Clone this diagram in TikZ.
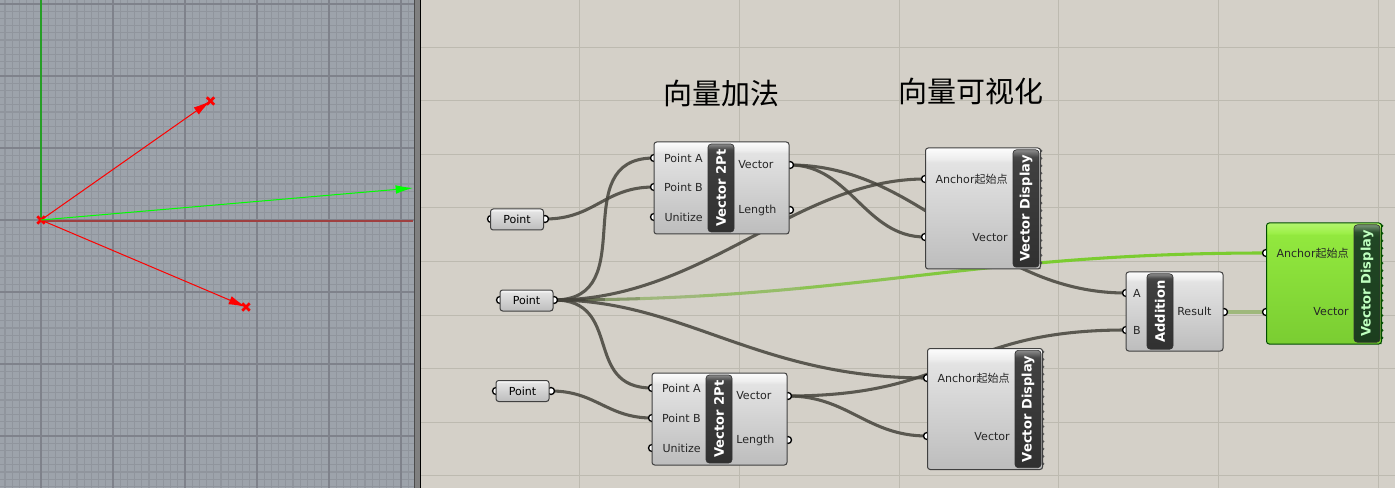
\documentclass[tikz,border=0pt]{standalone}
\usepackage{fontspec}
\setmainfont{DejaVu Sans}
\newfontfamily\cjkfont{Noto Sans CJK SC}
\usetikzlibrary{arrows.meta,backgrounds,decorations.pathmorphing,shapes.misc}
\definecolor{canvasbg}{HTML}{D4D0C8}
\definecolor{canvasline}{HTML}{BDBAB0}
\definecolor{viewbg}{HTML}{9DA3AB}
\definecolor{viewminor}{HTML}{90959D}
\definecolor{viewmajor}{HTML}{7F828B}
\definecolor{wiredark}{HTML}{45433B}
\definecolor{wirepale}{HTML}{9FB87C}
\definecolor{wirebright}{HTML}{7BCC30}
\pgfdeclareverticalshading{compshade}{100bp}{color(0bp)=(rgb:black,0;white,1);color(25bp)=(rgb:black,26;white,74);color(69bp)=(rgb:black,11;white,89);color(70.5bp)=(rgb:black,7;white,93);color(75bp)=(rgb:black,1;white,99);color(100bp)=(white)}
\pgfdeclareverticalshading{greenshade}{100bp}{color(0bp)=(rgb,255:red,122;green,205;blue,50);color(25bp)=(rgb,255:red,122;green,205;blue,50);color(70bp)=(rgb,255:red,146;green,232;blue,62);color(71bp)=(rgb,255:red,158;green,240;blue,74);color(75bp)=(rgb,255:red,178;green,245;blue,110);color(100bp)=(rgb,255:red,178;green,245;blue,110)}
\pgfdeclareverticalshading{darkshade}{100bp}{color(0bp)=(rgb,255:red,48;green,48;blue,48);color(25bp)=(rgb,255:red,48;green,48;blue,48);color(70bp)=(rgb,255:red,64;green,64;blue,64);color(72bp)=(rgb,255:red,72;green,72;blue,72);color(75bp)=(rgb,255:red,140;green,140;blue,140);color(100bp)=(rgb,255:red,140;green,140;blue,140)}
\pgfdeclareverticalshading{darkgreenshade}{100bp}{color(0bp)=(rgb,255:red,28;green,62;blue,30);color(25bp)=(rgb,255:red,28;green,62;blue,30);color(70bp)=(rgb,255:red,32;green,70;blue,36);color(72bp)=(rgb,255:red,44;green,80;blue,46);color(75bp)=(rgb,255:red,120;green,150;blue,120);color(100bp)=(rgb,255:red,120;green,150;blue,120)}
\tikzset{
  box/.style={draw=black!75,line width=0.75pt,rounded corners=2pt,inner sep=0pt,outer sep=0pt,shading=compshade},
  vecbox/.style={box,minimum width=101.25pt,minimum height=69pt},
  dispbox/.style={box,minimum width=86.25pt,minimum height=90.75pt},
  addbox/.style={box,minimum width=72.75pt,minimum height=59.25pt},
  pointbox/.style={box,minimum width=39.75pt,minimum height=15.75pt,font=\fontsize{8.3}{10}\selectfont},
  greenbox/.style={dispbox,draw=black!50!green!60!black,shading=greenshade},
  tag/.style={draw=black!80,line width=0.5pt,rounded corners=2.5pt,inner sep=0pt,outer sep=0pt,shading=darkshade,minimum width=19.5pt},
  tagtext/.style={rotate=90,text=white,inner sep=0pt,font=\fontsize{9.8}{11}\selectfont\bfseries},
  grip/.style={circle,draw=black,line width=1pt,fill=white,inner sep=0pt,minimum size=5.25pt},
  port/.style={inner sep=0pt,text=black!85,font=\fontsize{8.3}{10}\selectfont},
  teeth/.style={draw=black!70,line width=0.5pt,fill=white!92!black,decorate,decoration={zigzag,amplitude=1.5pt,segment length=5.6pt}},
  title/.style={inner sep=0pt,font=\fontsize{21.75}{24}\cjkfont},
  wire/.style={draw=wiredark,line width=2.3pt,opacity=0.85},
  ptcross/.style={cross out,draw=red,line width=2pt,minimum size=5.5pt,inner sep=0pt,outer sep=0pt},
  vecred/.style={draw=red,line width=0.75pt,-{Latex[length=13pt,width=6.5pt]}},
}
\begin{document}
\begin{tikzpicture}[x=0.75pt,y=-0.75pt]
  \useasboundingbox (0,0) rectangle (1395,488);

  % viewport
  \fill[viewbg] (0,0) rectangle (414,488);
  \foreach \i in {-5,...,52} \draw[viewminor,line width=0.9pt] ({41+7.2*\i},0) -- ({41+7.2*\i},488);
  \foreach \i in {-30,...,37} \draw[viewminor,line width=0.9pt] (0,{220+7.2*\i}) -- (414,{220+7.2*\i});
  \foreach \i in {0,...,5} \draw[viewmajor,line width=0.9pt] ({41+72*\i},0) -- ({41+72*\i},488);
  \foreach \i in {-3,...,3} \draw[viewmajor,line width=0.9pt] (0,{220+72*\i}) -- (414,{220+72*\i});
  \draw[green!55!black!85,line width=1.6pt] (41,0) -- (41,220);
  \draw[red!50!black!75,line width=1.6pt] (41,221) -- (413,221);
  \fill[black!50] (414,0) rectangle (420,488);
  \draw[black,line width=1.2pt] (420.5,0) -- (420.5,488);
  \draw[black!70,line width=0.75pt] (414,0) -- (414,488);

  \node[ptcross] (origin) at (41,220) {};
  \node[ptcross] (ptup) at (210.5,101) {};
  \node[ptcross] (ptdown) at (246,307) {};
  \coordinate (ptsum) at (413,188);
  \draw[vecred] (origin.center) -- (ptup.center);
  \draw[vecred] (origin.center) -- (ptdown.center);
  \draw[green,line width=0.75pt,-{Latex[length=13pt,width=6.5pt]}] (origin.center) -- (ptsum);

  % titles
  \node[title] (titleadd) at (721,93) {向量加法};
  \node[title] (titleshow) at (971,91) {向量可视化};

  % grips
  \node[grip] (ptoneout) at (545,219) {};
  \node[grip] (ptonein) at (491,219) {};
  \node[grip] (pttwoout) at (554,300) {};
  \node[grip] (pttwoin) at (500,300) {};
  \node[grip] (ptthreeout) at (551,391) {};
  \node[grip] (ptthreein) at (496,391) {};
  \node[grip] (vecaA) at (654,158) {};
  \node[grip] (vecaB) at (654,187) {};
  \node[grip] (vecaU) at (654,217) {};
  \node[grip] (vecaV) at (790,165) {};
  \node[grip] (vecaL) at (790,210) {};
  \node[grip] (vecbA) at (652,388) {};
  \node[grip] (vecbB) at (652,418) {};
  \node[grip] (vecbU) at (652,448) {};
  \node[grip] (vecbV) at (788,396) {};
  \node[grip] (vecbL) at (788,440) {};
  \node[grip] (dispaA) at (925,179) {};
  \node[grip] (dispaV) at (925,237) {};
  \node[grip] (dispbA) at (927,378) {};
  \node[grip] (dispbV) at (927,436) {};
  \node[grip] (dispcA) at (1266,253) {};
  \node[grip] (dispcV) at (1266,312) {};
  \node[grip] (addA) at (1126,293) {};
  \node[grip] (addB) at (1126,330) {};
  \node[grip] (addR) at (1224,312) {};

  % zigzag edges
  \coordinate (zigatop) at (1040,149);
  \coordinate (zigabot) at (1040,269);
  \coordinate (zigbtop) at (1042,350);
  \coordinate (zigbbot) at (1042,469);
  \coordinate (zigctop) at (1381,224);
  \coordinate (zigcbot) at (1381,344);
  \draw[teeth] (zigatop) -- (zigabot);
  \draw[teeth] (zigbtop) -- (zigbbot);
  \draw[teeth,fill=wirebright,draw=black!50!green!60!black] (zigctop) -- (zigcbot);

  % components
  \node[pointbox] (ptone) at (517,219.5) {Point};
  \node[pointbox] (pttwo) at (526.5,300.5) {Point};
  \node[pointbox] (ptthree) at (522.5,391) {Point};
  \node[vecbox] (veca) at (721.5,188) {};
  \node[vecbox] (vecb) at (719.5,419) {};
  \node[dispbox] (dispa) at (983,208.5) {};
  \node[dispbox] (dispb) at (985,409) {};
  \node[greenbox] (dispc) at (1324,283.5) {};
  \node[addbox] (addition) at (1174.5,311.5) {};

  \node[tag,minimum height=66pt] (vecatag) at (721,188) {};
  \node[tagtext] (vecatext) at (721,188) {Vector 2Pt};
  \node[tag,minimum height=66pt] (vecbtag) at (719,419) {};
  \node[tagtext] (vecbtext) at (719,419) {Vector 2Pt};
  \node[tag,minimum height=88pt] (dispatag) at (1026,208.5) {};
  \node[tagtext] (dispatext) at (1026,208.5) {Vector Display};
  \node[tag,minimum height=88pt] (dispbtag) at (1028,409) {};
  \node[tagtext] (dispbtext) at (1028,409) {Vector Display};
  \node[tag,minimum height=88pt,shading=darkgreenshade] (dispctag) at (1367,283.5) {};
  \node[tagtext,text=green!25!white] (dispctext) at (1367,283.5) {Vector Display};
  \node[tag,minimum height=56.5pt] (addtag) at (1160,311.5) {};
  \node[tagtext] (addtext) at (1160,311.5) {Addition};

  % port labels
  \node[port,anchor=east] (vecalA) at (703,158) {Point A};
  \node[port,anchor=east] (vecalB) at (703,187) {Point B};
  \node[port,anchor=east] (vecalU) at (703,217) {Unitize};
  \node[port,anchor=west] (vecalV) at (738,165) {Vector};
  \node[port,anchor=west] (vecalL) at (738,210) {Length};
  \node[port,anchor=east] (vecblA) at (701,388) {Point A};
  \node[port,anchor=east] (vecblB) at (701,418) {Point B};
  \node[port,anchor=east] (vecblU) at (701,448) {Unitize};
  \node[port,anchor=west] (vecblV) at (736,396) {Vector};
  \node[port,anchor=west] (vecblL) at (736,440) {Length};
  \node[port,anchor=east] (dispalA) at (1008,179) {Anchor{\cjkfont 起始点}};
  \node[port,anchor=east] (dispalV) at (1008,238) {Vector};
  \node[port,anchor=east] (dispblA) at (1010,378.5) {Anchor{\cjkfont 起始点}};
  \node[port,anchor=east] (dispblV) at (1010,437) {Vector};
  \node[port,anchor=east] (dispclA) at (1349,253) {Anchor{\cjkfont 起始点}};
  \node[port,anchor=east] (dispclV) at (1349,312) {Vector};
  \node[port] (addlA) at (1137,293) {A};
  \node[port] (addlB) at (1137,330) {B};
  \node[port,anchor=west] (addlR) at (1177,311.5) {Result};

  \begin{scope}[on background layer]
    % canvas
    \fill[canvasbg] (421,0) rectangle (1395,488);
    \foreach \x in {579,739,899,1058,1218,1378} \draw[canvasline,line width=0.75pt] (\x,0) -- (\x,488);
    \foreach \y in {48,101,155,208,262,315,368,422,475} \draw[canvasline,line width=0.75pt] (421,\y) -- (1395,\y);

    % fading wire
    \foreach \xa/\xb/\shade in {555/585/wiredark,585/605/wiredark!60!wirepale,605/640/wiredark!25!wirepale,640/700/wirepale,700/800/wirepale!75!wirebright,800/900/wirepale!45!wirebright,900/1000/wirepale!20!wirebright,1000/1270/wirebright}{
      \begin{scope}
        \clip (\xa,0) rectangle (\xb+0.4,488);
        \draw[wire,opacity=1,draw=\shade] (pttwoout.center) .. controls +(300,0) and +(-300,0) .. (dispcA.center);
      \end{scope}
    }
    \draw[wire,opacity=1,draw=wirepale] (addR.center) -- (dispcV.center);

    % wires
    \draw[wire] (ptoneout.center) .. controls +(50,0) and +(-50,0) .. (vecaB.center);
    \draw[wire] (pttwoout.center) .. controls +(90,0) and +(-90,0) .. (vecaA.center);
    \draw[wire] (pttwoout.center) .. controls +(150,0) and +(-130,0) .. (dispaA.center);
    \draw[wire] (pttwoout.center) .. controls +(70,0) and +(-70,0) .. (vecbA.center);
    \draw[wire] (pttwoout.center) .. controls +(130,0) and +(-170,0) .. (dispbA.center);
    \draw[wire] (ptthreeout.center) .. controls +(45,0) and +(-45,0) .. (vecbB.center);
    \draw[wire] (vecaV.center) .. controls +(60,0) and +(-60,0) .. (dispaV.center);
    \draw[wire] (vecaV.center) .. controls +(132,0) and +(-142,0) .. (addA.center);
    \draw[wire] (vecbV.center) .. controls +(60,0) and +(-60,0) .. (dispbV.center);
    \draw[wire] (vecbV.center) .. controls +(170,0) and +(-170,0) .. (addB.center);
  \end{scope}
\end{tikzpicture}
\end{document}
